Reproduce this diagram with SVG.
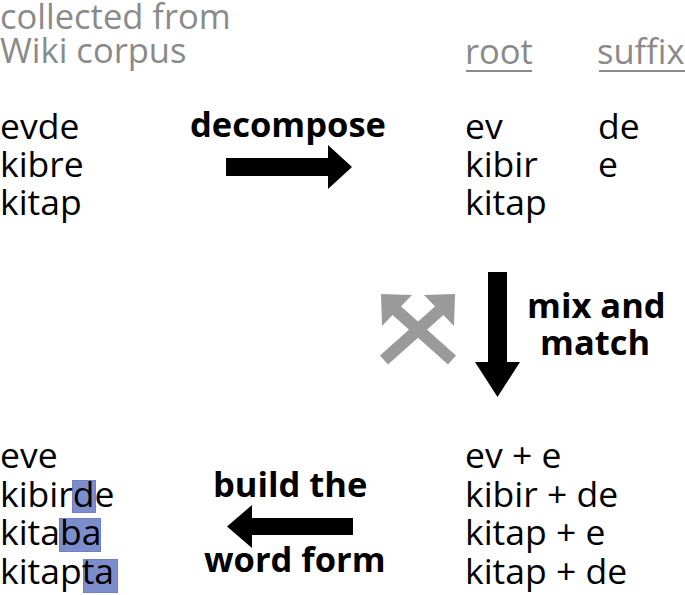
<svg xmlns="http://www.w3.org/2000/svg" width="685" height="595" viewBox="0 0 685 595">
<style>
.t{font-family:"Open Sans","Noto Sans",sans-serif;font-size:35.5px;fill:#000}
.g{font-family:"Open Sans","Noto Sans",sans-serif;font-size:34.5px;fill:#8a8a8a}
.b{font-family:"Open Sans","Noto Sans",sans-serif;font-size:34.5px;font-weight:bold;fill:#000}
.hl{fill:#7d8dcc;stroke:#6f80c4;stroke-width:1}
.ga{fill:#9a9a9a}
</style>
<rect width="685" height="595" fill="#fff"/>
<g id="source">
<text class="g" x="0" y="29">collected from</text>
<text class="g" x="0" y="63">Wiki corpus</text>
<text class="t" x="0" y="139">evde</text>
<text class="t" x="0" y="177">kibre</text>
<text class="t" x="0" y="215">kitap</text>
</g>
<g id="decomposed">
<text class="g" x="465" y="64">root</text>
<rect x="466" y="70" width="66" height="2" fill="#8a8a8a"/>
<text class="g" x="597" y="64">suffix</text>
<rect x="599" y="70" width="86" height="2" fill="#8a8a8a"/>
<text class="t" x="465" y="139">ev</text>
<text class="t" x="465" y="177">kibir</text>
<text class="t" x="465" y="215">kitap</text>
<text class="t" x="598" y="139">de</text>
<text class="t" x="598" y="177">e</text>
</g>
<g id="combos">
<text class="t" x="465" y="468">ev + e</text>
<text class="t" x="465" y="507">kibir + de</text>
<text class="t" x="465" y="545">kitap + e</text>
<text class="t" x="465" y="584">kitap + de</text>
</g>
<g id="wordforms">
<rect class="hl" x="72.5" y="480.5" width="23" height="32"/>
<rect class="hl" x="59.5" y="518.5" width="41" height="33"/>
<rect class="hl" x="83.5" y="559.5" width="34" height="33"/>
<text class="t" x="0" y="468">eve</text>
<text class="t" x="0" y="507">kibirde</text>
<text class="t" x="0" y="545">kitaba</text>
<text class="t" x="0" y="584">kitapta</text>
</g>
<g id="connectors">
<g id="decompose-arrow">
<text class="b" x="190" y="137">decompose</text>
<polygon points="226,158 328,158 328,145 352,167 328,189 328,176 226,176" fill="#000"/>
</g>
<g id="mix-arrow">
<polygon points="488,272 507,272 507,362 520,362 497.5,397 475,362 488,362" fill="#000"/>
<text class="b" x="527" y="318">mix and</text>
<text class="b" x="540" y="355">match</text>
<g id="cross">
<line x1="452" y1="360" x2="396" y2="310" stroke="#9a9a9a" stroke-width="12"/>
<polygon class="ga" points="381,294 412,295 382,326"/>
<line x1="384" y1="360" x2="440" y2="310" stroke="#9a9a9a" stroke-width="12"/>
<polygon class="ga" points="455,294 424,295 454,326"/>
</g>
</g>
<g id="build-arrow">
<text class="b" x="213" y="497">build the</text>
<polygon points="353,518 353,535 252,535 252,548 227,526.5 252,505 252,518" fill="#000"/>
<text class="b" x="204" y="572">word form</text>
</g>
</g>
</svg>
